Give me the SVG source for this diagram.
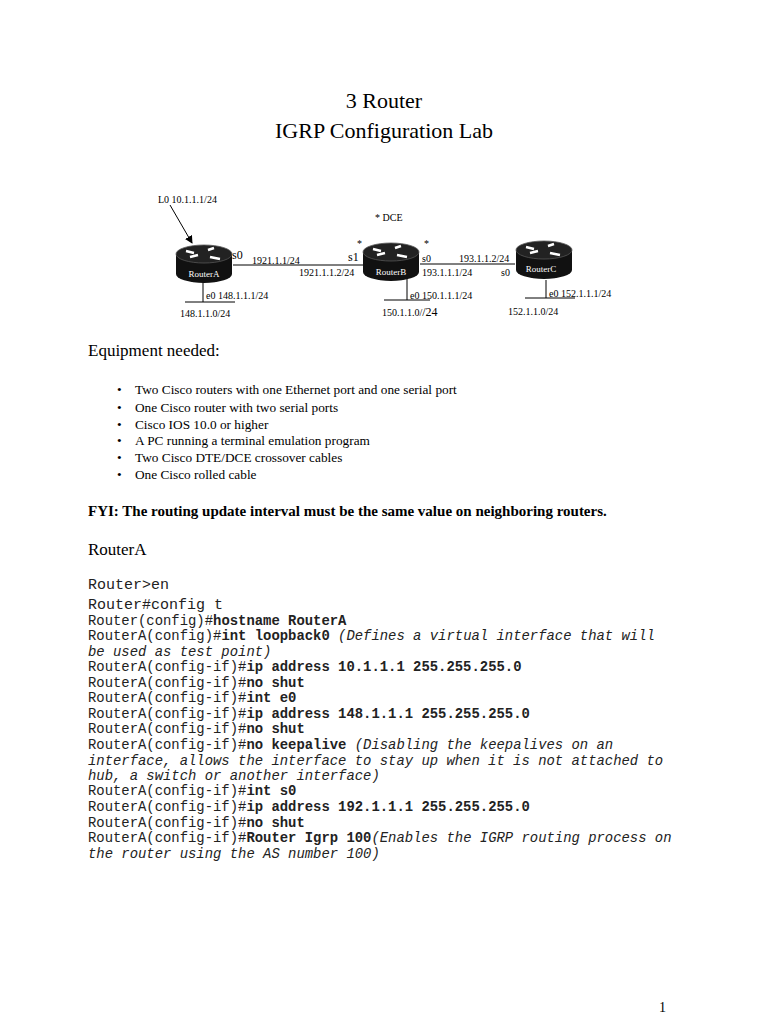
<svg xmlns="http://www.w3.org/2000/svg" width="768" height="1024" viewBox="0 0 768 1024">
<style>
.t{font-family:"Liberation Serif",serif;fill:#000}
.s{font-size:10px}
.m{font-family:"Liberation Mono",monospace;font-size:13.9px;fill:#222}
.b{font-weight:bold}
.i{font-style:italic}
.ln{stroke:#000;stroke-width:1;fill:none}
.rl{font-family:"Liberation Serif",serif;font-size:9px;fill:#fff}
</style>
<defs>
<marker id="ah" markerWidth="8" markerHeight="8" refX="7" refY="4" orient="auto"><path d="M0,0 L8,4 L0,8 z" fill="#000"/></marker>
<g id="rt">
<path d="M-28,-8 L-28,12 A28,9 0 0 0 28,12 L28,-8 Z" fill="#111"/>
<ellipse cx="0" cy="-8" rx="28" ry="9" fill="#222" stroke="#555" stroke-width="0.8"/>
<path d="M-18,-11 l8,2 M-6,-7 l-8,2 M4,-12 l6,-2 M6,-5 l10,2" stroke="#fff" stroke-width="2.5"/>
</g>
</defs>
<rect width="768" height="1024" fill="#fff"/>
<text class="t" x="384" y="108" font-size="22" text-anchor="middle">3 Router</text>
<text class="t" x="384" y="138" font-size="22" text-anchor="middle">IGRP Configuration Lab</text>
<g id="connectors">
<line class="ln" x1="233" y1="265" x2="363" y2="265"/>
<line class="ln" x1="420" y1="264" x2="515" y2="264"/>
<line class="ln" x1="203" y1="282" x2="203" y2="302"/><line class="ln" x1="185" y1="302" x2="235" y2="302"/>
<line class="ln" x1="407" y1="278" x2="407" y2="300"/><line class="ln" x1="384" y1="300" x2="430" y2="300"/>
<line class="ln" x1="546" y1="280" x2="546" y2="298"/><line class="ln" x1="525" y1="298" x2="575" y2="298"/>
<line class="ln" x1="170" y1="205" x2="192" y2="243" marker-end="url(#ah)"/>
</g>
<g id="RouterA"><use href="#rt" x="204" y="262"/><text class="rl" x="204" y="277" text-anchor="middle">RouterA</text></g>
<g id="RouterB"><use href="#rt" x="391" y="260"/><text class="rl" x="391" y="275" text-anchor="middle">RouterB</text></g>
<g id="RouterC"><use href="#rt" x="544" y="258"/><text class="rl" x="541" y="272" text-anchor="middle">RouterC</text></g>
<g class="t s">
<text x="158" y="203">L0 10.1.1.1/24</text>
<text x="375" y="221">* DCE</text>
<text x="357" y="247">*</text><text x="424" y="247">*</text>
<text x="232" y="259" font-size="12">s0</text>
<text x="252" y="264">1921.1.1/24</text>
<text x="348" y="261" font-size="12">s1</text>
<text x="299" y="276">1921.1.1.2/24</text>
<text x="422" y="262">s0</text>
<text x="422" y="276">193.1.1.1/24</text>
<text x="459" y="262">193.1.1.2/24</text>
<text x="501" y="276">s0</text>
<text x="206" y="299">e0 148.1.1.1/24</text>
<text x="180" y="317">148.1.1.0/24</text>
<text x="410" y="299">e0 150.1.1.1/24</text>
<text x="382" y="316">150.1.1.0/<tspan font-size="12">/24</tspan></text>
<text x="549" y="297">e0 152.1.1.1/24</text>
<text x="508" y="315">152.1.1.0/24</text>
</g>
<text class="t" x="88" y="356" font-size="17">Equipment needed:</text>
<g class="t" font-size="13.3">
<text x="117" y="394">•</text><text x="135" y="394">Two Cisco routers with one Ethernet port and one serial port</text>
<text x="117" y="412">•</text><text x="135" y="412">One Cisco router with two serial ports</text>
<text x="117" y="429">•</text><text x="135" y="429">Cisco IOS 10.0 or higher</text>
<text x="117" y="445">•</text><text x="135" y="445">A PC running a terminal emulation program</text>
<text x="117" y="462">•</text><text x="135" y="462">Two Cisco DTE/DCE crossover cables</text>
<text x="117" y="479">•</text><text x="135" y="479">One Cisco rolled cable</text>
<text x="88" y="516" class="b" font-size="15">FYI: The routing update interval must be the same value on neighboring routers.</text>
</g>
<text class="t" x="88" y="555" font-size="17">RouterA</text>
<g class="m">
<text x="88" y="589" font-size="15">Router&gt;en</text>
<text x="88" y="609" font-size="15">Router#config t</text>
<text x="88" y="625">Router(config)#<tspan class="b">hostname RouterA</tspan></text>
<text x="88" y="640">RouterA(config)#<tspan class="b">int loopback0</tspan> <tspan class="i">(Defines a virtual interface that will</tspan></text>
<text x="88" y="656" class="i">be used as test point)</text>
<text x="88" y="671">RouterA(config-if)#<tspan class="b">ip address 10.1.1.1 255.255.255.0</tspan></text>
<text x="88" y="687">RouterA(config-if)#<tspan class="b">no shut</tspan></text>
<text x="88" y="702">RouterA(config-if)#<tspan class="b">int e0</tspan></text>
<text x="88" y="718">RouterA(config-if)#<tspan class="b">ip address 148.1.1.1 255.255.255.0</tspan></text>
<text x="88" y="733">RouterA(config-if)#<tspan class="b">no shut</tspan></text>
<text x="88" y="749">RouterA(config-if)#<tspan class="b">no keepalive</tspan> <tspan class="i">(Disabling the keepalives on an</tspan></text>
<text x="88" y="765" class="i">interface, allows the interface to stay up when it is not attached to</text>
<text x="88" y="780" class="i">hub, a switch or another interface)</text>
<text x="88" y="795">RouterA(config-if)#<tspan class="b">int s0</tspan></text>
<text x="88" y="811">RouterA(config-if)#<tspan class="b">ip address 192.1.1.1 255.255.255.0</tspan></text>
<text x="88" y="827">RouterA(config-if)#<tspan class="b">no shut</tspan></text>
<text x="88" y="842">RouterA(config-if)#<tspan class="b">Router Igrp 100</tspan><tspan class="i">(Enables the IGRP routing process on</tspan></text>
<text x="88" y="858" class="i">the router using the AS number 100)</text>
</g>
<text class="t" x="666" y="1012" font-size="14" text-anchor="end">1</text>
</svg>
